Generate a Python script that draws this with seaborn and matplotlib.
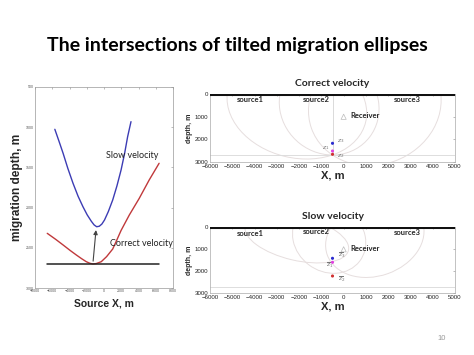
import numpy as np
import pandas as pd
import matplotlib.pyplot as plt
import seaborn as sns
from matplotlib.patches import Ellipse

# left panel: migration depth vs source X
slow_x = [-5700, -5200, -4740, -4200, -3590, -3000, -2440, -1950, -1470, -1150, -850,
          -550, -250, 60, 500, 1010, 1500, 1980, 2400, 2740, 3130]
slow_z = [1026, 1180, 1325, 1510, 1698, 1860, 1989, 2090, 2170, 2215, 2238,
          2232, 2205, 2154, 2050, 1905, 1730, 1532, 1320, 1118, 931]
corr_x = [-6580, -5600, -4740, -3900, -3200, -2600, -2050, -1650, -1290, -900, -320,
          300, 1010, 1500, 1975, 2935, 4086, 5237, 6388]
corr_z = [2320, 2395, 2465, 2535, 2590, 2635, 2673, 2692, 2701, 2696, 2673,
          2610, 2515, 2400, 2285, 2092, 1885, 1657, 1449]
flat_x = [-6650, 6390]
flat_z = [2700, 2700]
arrow_from = (-1290, 2700)
arrow_to = (-900, 2245)

# right panels
src_x = [-4200, -1300, 2800]
src_names = ['source1', 'source2', 'source3']
rec = (0, 1000)
path_correct = [6350, 4590, 6040]
path_slow = [4760, 3440, 4530]
pts_x = [-500, -500, -500]
pts_correct = [2181, 2524, 2671]
pts_slow = [1409, 1591, 2214]
pt_colors = ['#2b2bd0', '#e040e0', '#d03030']
reflector = 2700

sns.set_style('white')
plt.rcParams['font.family'] = ['Liberation Sans', 'DejaVu Sans']

fig = plt.figure(figsize=(4.74, 3.55), dpi=100)
fig.text(0.5, 1 - 45 / 355, 'The intersections of tilted migration ellipses',
         ha='center', va='center', fontsize=14, fontweight='bold', family='Lato', color='black')
fig.text(442 / 474, 1 - 339 / 355, '10', ha='center', va='center', fontsize=5.5, color='#999999')

ax = fig.add_axes([35 / 474, 1 - 288 / 355, 138 / 474, 201 / 355])
sns.lineplot(x=slow_x, y=slow_z, sort=False, ax=ax, color='#3c3cb4', lw=1)
sns.lineplot(x=corr_x, y=corr_z, sort=False, ax=ax, color='#c0393b', lw=1)
sns.lineplot(x=flat_x, y=flat_z, sort=False, ax=ax, color='#222222', lw=1.1)
ax.annotate('', xy=arrow_to, xytext=arrow_from,
            arrowprops=dict(arrowstyle='-|>', color='#444444', lw=0.8, mutation_scale=6))
ax.text(180, 1354, 'Slow velocity', fontsize=6.5, family='Lato', va='center', color='#222222')
ax.text(640, 2444, 'Correct velocity', fontsize=6.5, family='Lato', va='center', color='#222222')
ax.set_xlim(-8000, 8000)
ax.set_ylim(3000, 500)
ax.set_xticks(range(-8000, 8001, 2000))
ax.set_yticks(range(500, 3001, 500))
ax.tick_params(direction='in', length=1.5, width=0.4, labelsize=2.6, labelcolor='#555555',
               top=True, right=True, pad=1, color='#888888')
for s in ax.spines.values():
    s.set_color('#999999')
    s.set_linewidth(0.5)
ax.set_ylabel('migration depth, m', fontsize=8.6, fontweight='bold', labelpad=2)
ax.set_xlabel('Source X, m', fontsize=7.5, fontweight='bold', labelpad=4)


def draw_panel(rect, title, paths, pts_z, labels, lab_pos, src_y, well=False):
    a = fig.add_axes(rect)
    for xs, L in zip(src_x, paths):
        cx, cz = (xs + rec[0]) / 2, (0 + rec[1]) / 2
        c = np.hypot(rec[0] - xs, rec[1]) / 2
        b = np.sqrt((L / 2) ** 2 - c ** 2)
        ang = np.degrees(np.arctan2(rec[1], rec[0] - xs))
        a.add_patch(Ellipse((cx, cz), L, 2 * b, angle=ang, fill=False,
                            ec='#e6dede', lw=0.7))
    a.axhline(reflector, color='#dddddd', lw=0.7)
    a.axhline(0, color='#111111', lw=2.2, zorder=5)
    if well:
        a.plot([pts_x[0], pts_x[0]], [0, reflector], color='#cccccc', lw=0.5)
    df = pd.DataFrame({'x': pts_x, 'z': pts_z, 'k': ['a', 'b', 'c']})
    sns.scatterplot(data=df, x='x', y='z', hue='k', palette=pt_colors, s=5,
                    edgecolor='none', legend=False, ax=a, zorder=6)
    for lab, (lx, lz) in zip(labels, lab_pos):
        a.text(lx, lz, lab, fontsize=4.3, color='#777777', va='center')
    a.scatter([rec[0]], [rec[1]], marker='^', s=14, facecolor='none', edgecolor='#bbbbbb', lw=0.5)
    a.text(320, rec[1] - 40, 'Receiver', fontsize=5.5, fontweight='bold', family='Lato', va='center')
    for xs, nm, yy in zip([-4200, -1210, 2870], src_names, src_y):
        a.text(xs, yy, nm, fontsize=5.5, fontweight='bold', family='Lato', ha='center', va='center',
               zorder=7)
    a.set_xlim(-6000, 5000)
    a.set_ylim(3000, 0)
    a.set_xticks(range(-6000, 5001, 1000))
    a.set_yticks(range(0, 3001, 1000))
    a.tick_params(direction='in', length=1.5, width=0.4, labelsize=4.4, top=True, right=True,
                  pad=1.5, color='#888888')
    for s in a.spines.values():
        s.set_color('#aaaaaa')
        s.set_linewidth(0.5)
    a.set_xlabel('X, m', fontsize=8, fontweight='bold', labelpad=1)
    a.set_ylabel('depth, m', fontsize=5, fontweight='bold', labelpad=1)
    a.set_title(title, fontsize=7.5, fontweight='bold', family='Lato', pad=6)
    return a


draw_panel([210 / 474, 1 - 161.7 / 355, 245 / 474, 67.4 / 355], 'Correct velocity',
           path_correct, pts_correct, ['$z_3$', '$z_1$', '$z_2$'],
           [(-290, 2065), (-960, 2404), (-290, 2760)], [223, 223, 223], well=True)
draw_panel([210 / 474, 1 - 293.3 / 355, 245 / 474, 66 / 355], 'Slow velocity',
           path_slow, pts_slow, [r'$\overline{z}_3$', r'$\overline{z}_1$', r'$\overline{z}_2$'],
           [(-240, 1259), (-790, 1714), (-240, 2364)], [273, 200, 240])

fig.savefig('out.png', dpi=100)
